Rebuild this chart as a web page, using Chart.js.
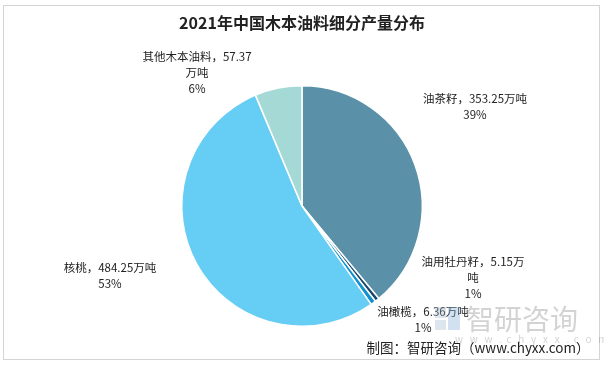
<!DOCTYPE html>
<html>
<head>
<meta charset="utf-8">
<script src="https://cdn.jsdelivr.net/npm/chart.js@4/dist/chart.umd.min.js"></script>
<style>
  html, body { margin: 0; padding: 0; background: #fff; }
  .wrap { position: relative; width: 604px; height: 366px; }
  .frame { position: absolute; left: 3px; top: 5px; width: 597px; height: 355px; border: 1px solid #d4d4d4; box-sizing: border-box; }
  canvas { position: absolute; left: 0; top: 0; }
</style>
</head>
<body>
<div class="wrap">
  <div class="frame"></div>
  <canvas id="c" width="604" height="366"></canvas>
</div>
<script>
// 数据
const categories = ["油茶籽", "油用牡丹籽", "油橄榄", "核桃", "其他木本油料"];
const values = [353.25, 5.15, 6.36, 484.25, 57.37];
const percents = ["39%", "1%", "1%", "53%", "6%"];
const colors = ["#5b91a8", "#17486a", "#1190d2", "#66cdf5", "#a4d9d6"];
const title = "2021年中国木本油料细分产量分布";

// 标签文本行
const labelLines = [
  ["油茶籽，353.25万吨", "39%"],
  ["油用牡丹籽，5.15万", "吨", "1%"],
  ["油橄榄，6.36万吨", "1%"],
  ["核桃，484.25万吨", "53%"],
  ["其他木本油料，57.37", "万吨", "6%"]
];
// 标签中心位置 (x, 第一行 y)
const labelPos = [[475, 99], [473, 262], [423, 312], [110, 268], [197, 57]];

const CJK = '"Noto Sans CJK SC", "Microsoft YaHei", sans-serif';

const decor = {
  id: "decor",
  afterDraw(chart) {
    const ctx = chart.ctx;
    ctx.save();
    // 标题
    ctx.fillStyle = "#222";
    ctx.font = "bold 16px " + CJK;
    ctx.textAlign = "center";
    ctx.textBaseline = "middle";
    ctx.fillText(title, 302, 23);

    // 数据标签
    ctx.font = "11.5px " + CJK;
    ctx.fillStyle = "#222";
    labelLines.forEach((lines, i) => {
      const [x, y] = labelPos[i];
      lines.forEach((t, j) => ctx.fillText(t, x, y + j * 16));
    });

    // 水印
    ctx.globalAlpha = 0.35;
    ctx.fillStyle = "#9fb6c8";
    ctx.fillRect(435, 307, 11, 11);
    ctx.fillRect(435, 320, 11, 10);
    ctx.fillStyle = "#7fa9d0";
    ctx.fillRect(448, 307, 12, 23);
    ctx.fillStyle = "#808080";
    ctx.font = "28px " + CJK;
    ctx.textAlign = "left";
    ctx.fillText("智研咨询", 466, 319);
    ctx.font = "10px " + CJK;
    ctx.fillText("w   w   w   .  c   h   y   x   x   .  c   o   m", 455, 339);
    ctx.globalAlpha = 1;

    // 来源
    ctx.fillStyle = "#222";
    ctx.font = "13.5px " + CJK;
    ctx.textAlign = "center";
    ctx.fillText("制图：智研咨询（www.chyxx.com）", 478, 348);
    ctx.restore();
  }
};

new Chart(document.getElementById("c"), {
  type: "pie",
  data: {
    labels: categories,
    datasets: [{
      data: values,
      backgroundColor: colors,
      borderColor: "#ffffff",
      borderWidth: 1.5
    }]
  },
  options: {
    responsive: false,
    animation: false,
    layout: { padding: { top: 85, bottom: 39, left: 181, right: 181 } },
    plugins: { legend: { display: false }, tooltip: { enabled: false } }
  },
  plugins: [decor]
});
</script>
</body>
</html>
